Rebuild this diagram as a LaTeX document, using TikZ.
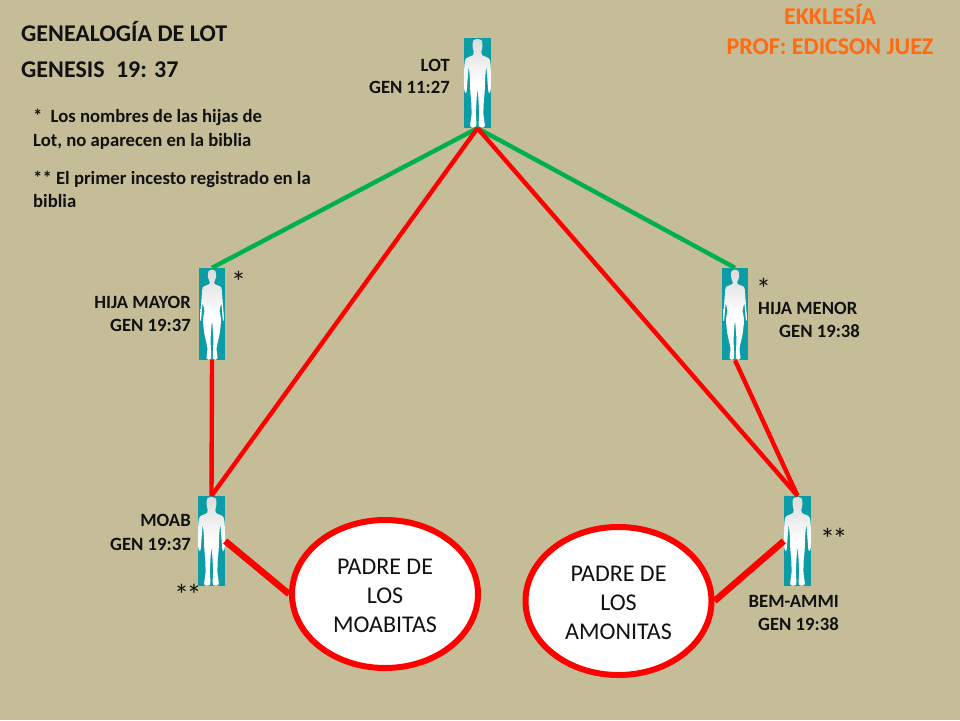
\documentclass[tikz,border=0pt]{standalone}
\usepackage{fontspec}
\setmainfont{Carlito}
\usetikzlibrary{shapes.geometric}
\definecolor{bgc}{HTML}{C4BD97}
\definecolor{tealc}{HTML}{0B9CA6}
\definecolor{greenc}{HTML}{00B050}
\definecolor{orangec}{HTML}{FF6A13}
\definecolor{inkc}{HTML}{111111}
\tikzset{
  x=1pt,y=-1pt,
  figbox/.style={draw=none,fill=tealc,rectangle,inner sep=0pt,minimum width=27pt,minimum height=90pt},
  lab/.style={inner sep=0pt,anchor=base west,text=inkc,font=\bfseries\fontsize{18.7}{18}\selectfont},
  labr/.style={lab,anchor=base east},
  title/.style={lab,font=\bfseries\fontsize{24}{24}\selectfont},
  org/.style={inner sep=0pt,anchor=base,text=orangec,font=\bfseries\fontsize{24}{24}\selectfont},
  star/.style={inner sep=0pt,anchor=base west,text=inkc,font=\fontsize{30}{30}\selectfont},
  greenl/.style={draw=greenc,line width=4.4pt},
  redl/.style={draw=red,line width=4.4pt},
  redt/.style={draw=red,line width=6.5pt},
  oval/.style={ellipse,draw=red,line width=6pt,fill=white,inner sep=0pt,minimum width=186pt,minimum height=148pt,
    align=center,text=inkc,font=\fontsize{24}{29}\selectfont},
  body/.style={top color=black!14,bottom color=white,middle color=white,draw=none},
  man/.pic={\path[body] plot[smooth cycle,tension=0.45] coordinates{
     (0,-44)(4.2,-42.5)(5,-37)(3.8,-31)(4.4,-28)(11.5,-24.5)(13,-19)(13.6,-5)(13.2,7)(11.8,10)(10.8,8)(10,-2)(8.8,-16)
     (7.6,-4)(7.2,8)(6.2,20)(6,32)(7.2,43.5)(1.4,43.5)(1.6,30)(0.8,14)(0,7)
     (-0.8,14)(-1.6,30)(-1.4,43.5)(-7.2,43.5)(-6,32)(-6.2,20)(-7.2,8)(-7.6,-4)(-8.8,-16)(-10,-2)(-10.8,8)(-11.8,10)(-13.2,7)(-13.6,-5)(-13,-19)(-11.5,-24.5)(-4.4,-28)(-3.8,-31)(-5,-37)(-4.2,-42.5)};},
  woman/.pic={\path[body] plot[smooth cycle,tension=0.45] coordinates{
     (0,-44.5)(3.6,-42.5)(4,-37)(2.6,-33)(2.6,-30)(9,-27)(10,-21)(11,-8)(12,5)(11,6.5)(10.2,-2)(9.4,-10)
     (8,-6)(7.6,-3)(9,6)(7.6,20)(4.6,34)(5.4,44.5)(1,44.5)(1.4,26)(0.5,11)(0,8)
     (-0.5,11)(-1.4,26)(-1,44.5)(-5.4,44.5)(-4.6,34)(-7.6,20)(-9,6)(-7.6,-3)(-8,-6)(-9.4,-10)(-10.2,-2)(-11,6.5)(-12,5)(-11,-8)(-10,-21)(-9,-27)(-2.6,-30)(-2.6,-33)(-4,-37)(-3.6,-42.5)};}
}
\begin{document}
\begin{tikzpicture}
\path[use as bounding box,fill=bgc] (0,0) rectangle (960,720);
% figure boxes
\node[figbox] (lot) at (477.5,83) {};
\node[figbox,minimum width=26pt,minimum height=92pt] (mayor) at (212,314) {};
\node[figbox,minimum width=26pt,minimum height=92pt] (menor) at (735,314) {};
\node[figbox] (moab) at (211.5,541) {};
\node[figbox] (bem) at (797.5,541) {};
\pic at (477.5,83) {man};
\pic at (212,314) {woman};
\pic at (735,314) {woman};
\pic at (211.5,541) {man};
\pic at (797.5,541) {man};
% ovals
\node[oval] (e1) at (385,594) {};
\node[oval] (e2) at (618.5,601) {};
\node[oval,draw=none,fill=none] (e1t) at (385,595.5) {PADRE DE\\LOS\\MOABITAS};
\node[oval,draw=none,fill=none] (e2t) at (618.5,603) {PADRE DE\\LOS\\AMONITAS};
% connectors
\draw[greenl] (lot.south) -- (mayor.north);
\draw[greenl] (lot.south) -- (menor.north);
\draw[redl] (lot.south) -- (moab.north);
\draw[redl] (lot.south) -- (bem.north);
\draw[redl] (mayor.south) -- (moab.north);
\draw[redl] (menor.south) -- (bem.north);
\draw[redt] (moab.east) -- (e1.west);
\draw[redt] (bem.west) -- (e2.east);
% texts
\node[title] (t1) at (21,41) {GENEALOGÍA DE LOT};
\node[title] (t2) at (21,77) {GENESIS\hspace{6pt} 19: 37};
\node[lab] (n1) at (33,122) {*\hspace{4pt} Los nombres de las hijas de};
\node[lab] (n2) at (33,146) {Lot, no aparecen en la biblia};
\node[lab] (n3) at (33,184) {** El primer incesto registrado en la};
\node[lab] (n4) at (33,207) {biblia};
\node[org] (o1) at (830,24) {EKKLESÍA};
\node[org] (o2) at (830,54) {PROF: EDICSON JUEZ};
\node[labr] (l1) at (450,71) {LOT};
\node[labr] (l2) at (450,93) {GEN 11:27};
\node[labr] (m1) at (191,308) {HIJA MAYOR};
\node[labr] (m2) at (191,331) {GEN 19:37};
\node[lab] (h1) at (758,314) {HIJA MENOR};
\node[lab] (h2) at (779,337) {GEN 19:38};
\node[labr] (a1) at (191,526) {MOAB};
\node[labr] (a2) at (191,550) {GEN 19:37};
\node[labr] (b1) at (839,607) {BEM-AMMI};
\node[labr] (b2) at (839,630) {GEN 19:38};
\node[star] (s1) at (231,292) {*};
\node[star] (s2) at (756,299) {*};
\node[star] (s3) at (174,605) {*\kern-2.5pt*};
\node[star] (s4) at (820,549) {*\kern-2.5pt*};
\end{tikzpicture}
\end{document}
